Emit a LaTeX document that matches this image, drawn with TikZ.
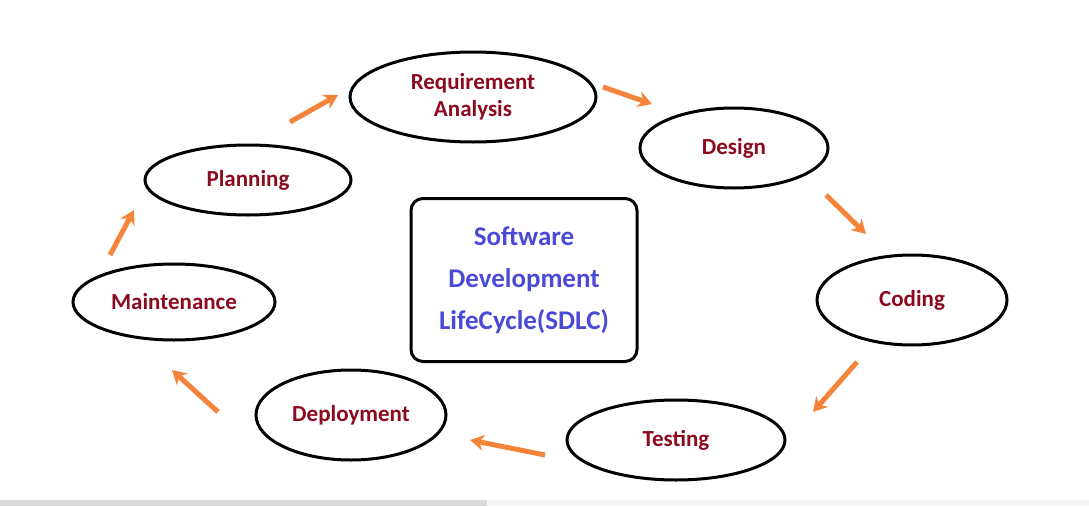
\documentclass[tikz,border=0pt]{standalone}
\usepackage{fontspec}
\setmainfont{Carlito}
\usetikzlibrary{arrows.meta,shapes.geometric}
\definecolor{dred}{HTML}{8B0A1E}
\definecolor{sblue}{HTML}{4A4AD8}
\definecolor{orng}{HTML}{F5843A}
\begin{document}
\begin{tikzpicture}[x=1pt,y=-1pt,
  phase/.style={draw,line width=3pt,ellipse,inner sep=0pt,text=dred,font=\fontsize{23}{27}\selectfont\bfseries,align=center},
  flow/.style={orng,line width=5pt,-{Stealth[length=14pt,width=16pt]}}]
\useasboundingbox (0,0) rectangle (1089,506);
\fill[gray!30] (0,500) rectangle (487,506);
\fill[gray!8] (487,500) rectangle (1089,506);
\node[draw,line width=3pt,rounded corners=12pt,minimum width=226pt,minimum height=163pt,text=sblue,font=\fontsize{27}{42}\selectfont\bfseries,align=center] (sdlc) at (524,280) {Software\\Development\\LifeCycle(SDLC)};
\node[phase,minimum width=246pt,minimum height=90pt] (req) at (473,97) {Requirement\\Analysis};
\node[phase,minimum width=188pt,minimum height=80pt] (des) at (734,148) {Design};
\node[phase,minimum width=190pt,minimum height=90pt] (cod) at (912,300) {Coding};
\node[phase,minimum width=218pt,minimum height=80pt] (tes) at (676,440) {Testing};
\node[phase,minimum width=190pt,minimum height=90pt] (dep) at (351,415) {Deployment};
\node[phase,minimum width=202pt,minimum height=76pt] (mai) at (174,302) {Maintenance};
\node[phase,minimum width=206pt,minimum height=70pt] (pla) at (248,180) {Planning};
\coordinate (a1) at (290,122); \coordinate (b1) at (338,95);
\coordinate (a2) at (603,87); \coordinate (b2) at (652,104);
\coordinate (a3) at (826,195); \coordinate (b3) at (866,234);
\coordinate (a4) at (857,362); \coordinate (b4) at (813,412);
\coordinate (a5) at (545,455); \coordinate (b5) at (470,440);
\coordinate (a6) at (218,412); \coordinate (b6) at (172,370);
\coordinate (a7) at (110,255); \coordinate (b7) at (134,210);
\foreach \i in {1,...,7}{\draw[flow] (a\i) -- (b\i);}
\end{tikzpicture}
\end{document}
